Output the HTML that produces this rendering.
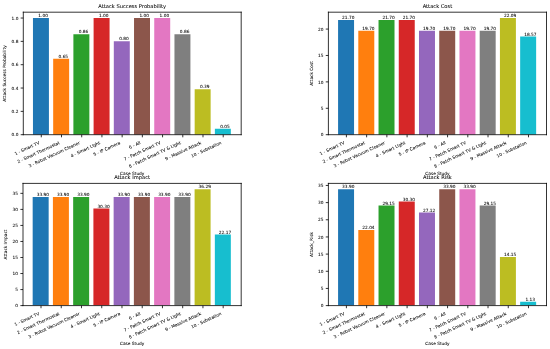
<!DOCTYPE html>
<html><head><meta charset="utf-8"><title>Attack metrics</title>
<style>html,body{margin:0;padding:0;background:#fff;width:550px;height:349px;overflow:hidden}svg{display:block}svg text{text-rendering:geometricPrecision}svg text{stroke:#000;stroke-width:0.06px}</style>
</head><body>
<svg width="550" height="349" viewBox="0 0 550 349" version="1.1">
<defs>
<style type="text/css">*{stroke-linejoin: round; stroke-linecap: butt}</style>
</defs>
<g id="figure_1">
<g id="patch_1">
<path d="M 0 349 L 550 349 L 550 0 L 0 0 z
" style="fill: #ffffff"/>
</g>
<g id="axes_1">
<g id="patch_2">
<path d="M 23.3 134.7 L 241.2 134.7 L 241.2 12.2 L 23.3 12.2 z
" style="fill: #ffffff"/>
</g>
<g id="patch_3">
<path d="M 32.961985 134.7 L 48.930538 134.7 L 48.930538 18.033333 L 32.961985 18.033333 z
" clip-path="url(#p0e96db7b95)" style="fill: #1f77b4"/>
</g>
<g id="patch_4">
<path d="M 53.175343 134.7 L 69.143896 134.7 L 69.143896 58.866667 L 53.175343 58.866667 z
" clip-path="url(#p0e96db7b95)" style="fill: #ff7f0e"/>
</g>
<g id="patch_5">
<path d="M 73.388701 134.7 L 89.357254 134.7 L 89.357254 34.366667 L 73.388701 34.366667 z
" clip-path="url(#p0e96db7b95)" style="fill: #2ca02c"/>
</g>
<g id="patch_6">
<path d="M 93.602059 134.7 L 109.570612 134.7 L 109.570612 18.033333 L 93.602059 18.033333 z
" clip-path="url(#p0e96db7b95)" style="fill: #d62728"/>
</g>
<g id="patch_7">
<path d="M 113.815417 134.7 L 129.78397 134.7 L 129.78397 41.366667 L 113.815417 41.366667 z
" clip-path="url(#p0e96db7b95)" style="fill: #9467bd"/>
</g>
<g id="patch_8">
<path d="M 134.028776 134.7 L 149.997328 134.7 L 149.997328 18.033333 L 134.028776 18.033333 z
" clip-path="url(#p0e96db7b95)" style="fill: #8c564b"/>
</g>
<g id="patch_9">
<path d="M 154.242134 134.7 L 170.210686 134.7 L 170.210686 18.033333 L 154.242134 18.033333 z
" clip-path="url(#p0e96db7b95)" style="fill: #e377c2"/>
</g>
<g id="patch_10">
<path d="M 174.455492 134.7 L 190.424045 134.7 L 190.424045 34.366667 L 174.455492 34.366667 z
" clip-path="url(#p0e96db7b95)" style="fill: #7f7f7f"/>
</g>
<g id="patch_11">
<path d="M 194.66885 134.7 L 210.637403 134.7 L 210.637403 89.2 L 194.66885 89.2 z
" clip-path="url(#p0e96db7b95)" style="fill: #bcbd22"/>
</g>
<g id="patch_12">
<path d="M 214.882208 134.7 L 230.850761 134.7 L 230.850761 128.866667 L 214.882208 128.866667 z
" clip-path="url(#p0e96db7b95)" style="fill: #17becf"/>
</g>
<g id="matplotlib.axis_1">
<g id="xtick_1">
<g id="line2d_1">
<g>
<path d="M41.290 134.700 L41.290 137.325" style="stroke: #000000; stroke-width: 0.8"/>
</g>
</g>
<g id="text_1">
<text style="font-size: 4.306px; font-family: 'DejaVu Sans', 'Liberation Sans', sans-serif" transform="translate(15.441759 155.200731) rotate(-25)">1 - Smart TV</text>
</g>
</g>
<g id="xtick_2">
<g id="line2d_2">
<g>
<path d="M61.503 134.700 L61.503 137.325" style="stroke: #000000; stroke-width: 0.8"/>
</g>
</g>
<g id="text_2">
<text style="font-size: 4.306px; font-family: 'DejaVu Sans', 'Liberation Sans', sans-serif" transform="translate(18.240547 163.321278) rotate(-25)">2 - Smart Thermostat</text>
</g>
</g>
<g id="xtick_3">
<g id="line2d_3">
<g>
<path d="M81.717 134.700 L81.717 137.325" style="stroke: #000000; stroke-width: 0.8"/>
</g>
</g>
<g id="text_3">
<text style="font-size: 4.306px; font-family: 'DejaVu Sans', 'Liberation Sans', sans-serif" transform="translate(29.4335 167.527562) rotate(-25)">3 - Robot Vacuum Cleaner</text>
</g>
</g>
<g id="xtick_4">
<g id="line2d_4">
<g>
<path d="M101.930 134.700 L101.930 137.325" style="stroke: #000000; stroke-width: 0.8"/>
</g>
</g>
<g id="text_4">
<text style="font-size: 4.306px; font-family: 'DejaVu Sans', 'Liberation Sans', sans-serif" transform="translate(71.395711 157.385906) rotate(-25)">4 - Smart Light</text>
</g>
</g>
<g id="xtick_5">
<g id="line2d_5">
<g>
<path d="M122.143 134.700 L122.143 137.325" style="stroke: #000000; stroke-width: 0.8"/>
</g>
</g>
<g id="text_5">
<text style="font-size: 4.306px; font-family: 'DejaVu Sans', 'Liberation Sans', sans-serif" transform="translate(94.333544 156.115462) rotate(-25)">5 - IP Camera</text>
</g>
</g>
<g id="xtick_6">
<g id="line2d_6">
<g>
<path d="M142.357 134.700 L142.357 137.325" style="stroke: #000000; stroke-width: 0.8"/>
</g>
</g>
<g id="text_6">
<text style="font-size: 4.306px; font-family: 'DejaVu Sans', 'Liberation Sans', sans-serif" transform="translate(129.768721 149.017411) rotate(-25)">6 - All</text>
</g>
</g>
<g id="xtick_7">
<g id="line2d_7">
<g>
<path d="M162.570 134.700 L162.570 137.325" style="stroke: #000000; stroke-width: 0.8"/>
</g>
</g>
<g id="text_7">
<text style="font-size: 4.306px; font-family: 'DejaVu Sans', 'Liberation Sans', sans-serif" transform="translate(124.763606 160.776979) rotate(-25)">7 - Patch Smart TV</text>
</g>
</g>
<g id="xtick_8">
<g id="line2d_8">
<g>
<path d="M182.783 134.700 L182.783 137.325" style="stroke: #000000; stroke-width: 0.8"/>
</g>
</g>
<g id="text_8">
<text style="font-size: 4.306px; font-family: 'DejaVu Sans', 'Liberation Sans', sans-serif" transform="translate(129.713681 167.894365) rotate(-25)">8 - Patch Smart TV &amp; Light</text>
</g>
</g>
<g id="xtick_9">
<g id="line2d_9">
<g>
<path d="M202.997 134.700 L202.997 137.325" style="stroke: #000000; stroke-width: 0.8"/>
</g>
</g>
<g id="text_9">
<text style="font-size: 4.306px; font-family: 'DejaVu Sans', 'Liberation Sans', sans-serif" transform="translate(165.92815 160.432924) rotate(-25)">9 - Massive Attack</text>
</g>
</g>
<g id="xtick_10">
<g id="line2d_10">
<g>
<path d="M223.210 134.700 L223.210 137.325" style="stroke: #000000; stroke-width: 0.8"/>
</g>
</g>
<g id="text_10">
<text style="font-size: 4.306px; font-family: 'DejaVu Sans', 'Liberation Sans', sans-serif" transform="translate(192.119134 157.645511) rotate(-25)">10 - Substation</text>
</g>
</g>
<g id="text_11">
<text style="font-size: 4.306px; font-family: 'DejaVu Sans', 'Liberation Sans', sans-serif; text-anchor: middle" x="132.25" y="174.527862" transform="rotate(-0 132.25 174.527862)">Case Study</text>
</g>
</g>
<g id="matplotlib.axis_2">
<g id="ytick_1">
<g id="line2d_11">
<g>
<path d="M23.300 134.700 L20.675 134.700" style="stroke: #000000; stroke-width: 0.8"/>
</g>
</g>
<g id="text_12">
<text style="font-size: 4.306px; font-family: 'DejaVu Sans', 'Liberation Sans', sans-serif; text-anchor: end" x="18.375" y="136.335944" transform="rotate(-0 18.375 136.335944)">0.0</text>
</g>
</g>
<g id="ytick_2">
<g id="line2d_12">
<g>
<path d="M23.300 111.367 L20.675 111.367" style="stroke: #000000; stroke-width: 0.8"/>
</g>
</g>
<g id="text_13">
<text style="font-size: 4.306px; font-family: 'DejaVu Sans', 'Liberation Sans', sans-serif; text-anchor: end" x="18.375" y="113.00261" transform="rotate(-0 18.375 113.00261)">0.2</text>
</g>
</g>
<g id="ytick_3">
<g id="line2d_13">
<g>
<path d="M23.300 88.033 L20.675 88.033" style="stroke: #000000; stroke-width: 0.8"/>
</g>
</g>
<g id="text_14">
<text style="font-size: 4.306px; font-family: 'DejaVu Sans', 'Liberation Sans', sans-serif; text-anchor: end" x="18.375" y="89.669277" transform="rotate(-0 18.375 89.669277)">0.4</text>
</g>
</g>
<g id="ytick_4">
<g id="line2d_14">
<g>
<path d="M23.300 64.700 L20.675 64.700" style="stroke: #000000; stroke-width: 0.8"/>
</g>
</g>
<g id="text_15">
<text style="font-size: 4.306px; font-family: 'DejaVu Sans', 'Liberation Sans', sans-serif; text-anchor: end" x="18.375" y="66.335944" transform="rotate(-0 18.375 66.335944)">0.6</text>
</g>
</g>
<g id="ytick_5">
<g id="line2d_15">
<g>
<path d="M23.300 41.367 L20.675 41.367" style="stroke: #000000; stroke-width: 0.8"/>
</g>
</g>
<g id="text_16">
<text style="font-size: 4.306px; font-family: 'DejaVu Sans', 'Liberation Sans', sans-serif; text-anchor: end" x="18.375" y="43.00261" transform="rotate(-0 18.375 43.00261)">0.8</text>
</g>
</g>
<g id="ytick_6">
<g id="line2d_16">
<g>
<path d="M23.300 18.033 L20.675 18.033" style="stroke: #000000; stroke-width: 0.8"/>
</g>
</g>
<g id="text_17">
<text style="font-size: 4.306px; font-family: 'DejaVu Sans', 'Liberation Sans', sans-serif; text-anchor: end" x="18.375" y="19.669277" transform="rotate(-0 18.375 19.669277)">1.0</text>
</g>
</g>
<g id="text_18">
<text style="font-size: 4.306px; font-family: 'DejaVu Sans', 'Liberation Sans', sans-serif; text-anchor: middle" x="5.621601" y="73.45" transform="rotate(-90 5.621601 73.45)">Attack Success Probability</text>
</g>
</g>
<g id="patch_13">
<path d="M 23.3 134.7 L 23.3 12.2 " style="fill: none; stroke: #000000; stroke-width: 0.8; stroke-linejoin: miter; stroke-linecap: square"/>
</g>
<g id="patch_14">
<path d="M 241.2 134.7 L 241.2 12.2 " style="fill: none; stroke: #000000; stroke-width: 0.8; stroke-linejoin: miter; stroke-linecap: square"/>
</g>
<g id="patch_15">
<path d="M 23.3 134.7 L 241.2 134.7 " style="fill: none; stroke: #000000; stroke-width: 0.8; stroke-linejoin: miter; stroke-linecap: square"/>
</g>
<g id="patch_16">
<path d="M 23.3 12.2 L 241.2 12.2 " style="fill: none; stroke: #000000; stroke-width: 0.8; stroke-linejoin: miter; stroke-linecap: square"/>
</g>
<g id="text_19">
<text style="font-size: 4.306px; font-family: 'DejaVu Sans', 'Liberation Sans', sans-serif; text-anchor: middle" x="43.109091" y="17.13782" transform="rotate(-0 43.109091 17.13782)">1.00</text>
</g>
<g id="text_20">
<text style="font-size: 4.306px; font-family: 'DejaVu Sans', 'Liberation Sans', sans-serif; text-anchor: middle" x="63.322449" y="57.971153" transform="rotate(-0 63.322449 57.971153)">0.65</text>
</g>
<g id="text_21">
<text style="font-size: 4.306px; font-family: 'DejaVu Sans', 'Liberation Sans', sans-serif; text-anchor: middle" x="83.535807" y="33.471153" transform="rotate(-0 83.535807 33.471153)">0.86</text>
</g>
<g id="text_22">
<text style="font-size: 4.306px; font-family: 'DejaVu Sans', 'Liberation Sans', sans-serif; text-anchor: middle" x="103.749165" y="17.13782" transform="rotate(-0 103.749165 17.13782)">1.00</text>
</g>
<g id="text_23">
<text style="font-size: 4.306px; font-family: 'DejaVu Sans', 'Liberation Sans', sans-serif; text-anchor: middle" x="123.962523" y="40.471153" transform="rotate(-0 123.962523 40.471153)">0.80</text>
</g>
<g id="text_24">
<text style="font-size: 4.306px; font-family: 'DejaVu Sans', 'Liberation Sans', sans-serif; text-anchor: middle" x="144.175881" y="17.13782" transform="rotate(-0 144.175881 17.13782)">1.00</text>
</g>
<g id="text_25">
<text style="font-size: 4.306px; font-family: 'DejaVu Sans', 'Liberation Sans', sans-serif; text-anchor: middle" x="164.389239" y="17.13782" transform="rotate(-0 164.389239 17.13782)">1.00</text>
</g>
<g id="text_26">
<text style="font-size: 4.306px; font-family: 'DejaVu Sans', 'Liberation Sans', sans-serif; text-anchor: middle" x="184.602597" y="33.471153" transform="rotate(-0 184.602597 33.471153)">0.86</text>
</g>
<g id="text_27">
<text style="font-size: 4.306px; font-family: 'DejaVu Sans', 'Liberation Sans', sans-serif; text-anchor: middle" x="204.815955" y="88.304487" transform="rotate(-0 204.815955 88.304487)">0.39</text>
</g>
<g id="text_28">
<text style="font-size: 4.306px; font-family: 'DejaVu Sans', 'Liberation Sans', sans-serif; text-anchor: middle" x="225.029314" y="127.971153" transform="rotate(-0 225.029314 127.971153)">0.05</text>
</g>
<g id="text_29">
<text style="font-size: 5.1672px; font-family: 'DejaVu Sans', 'Liberation Sans', sans-serif; text-anchor: middle" x="132.25" y="7.7" transform="rotate(-0 132.25 7.7)">Attack Success Probability</text>
</g>
</g>
<g id="axes_2">
<g id="patch_17">
<path d="M 328.4 134.7 L 546.5 134.7 L 546.5 12.2 L 328.4 12.2 z
" style="fill: #ffffff"/>
</g>
<g id="patch_18">
<path d="M 338.070853 134.7 L 354.054063 134.7 L 354.054063 20.093089 L 338.070853 20.093089 z
" clip-path="url(#pd82930c378)" style="fill: #1f77b4"/>
</g>
<g id="patch_19">
<path d="M 358.302764 134.7 L 374.285974 134.7 L 374.285974 30.655938 L 358.302764 30.655938 z
" clip-path="url(#pd82930c378)" style="fill: #ff7f0e"/>
</g>
<g id="patch_20">
<path d="M 378.534675 134.7 L 394.517885 134.7 L 394.517885 20.093089 L 378.534675 20.093089 z
" clip-path="url(#pd82930c378)" style="fill: #2ca02c"/>
</g>
<g id="patch_21">
<path d="M 398.766586 134.7 L 414.749796 134.7 L 414.749796 20.093089 L 398.766586 20.093089 z
" clip-path="url(#pd82930c378)" style="fill: #d62728"/>
</g>
<g id="patch_22">
<path d="M 418.998497 134.7 L 434.981707 134.7 L 434.981707 30.655938 L 418.998497 30.655938 z
" clip-path="url(#pd82930c378)" style="fill: #9467bd"/>
</g>
<g id="patch_23">
<path d="M 439.230408 134.7 L 455.213618 134.7 L 455.213618 30.655938 L 439.230408 30.655938 z
" clip-path="url(#pd82930c378)" style="fill: #8c564b"/>
</g>
<g id="patch_24">
<path d="M 459.462319 134.7 L 475.445529 134.7 L 475.445529 30.655938 L 459.462319 30.655938 z
" clip-path="url(#pd82930c378)" style="fill: #e377c2"/>
</g>
<g id="patch_25">
<path d="M 479.69423 134.7 L 495.67744 134.7 L 495.67744 30.655938 L 479.69423 30.655938 z
" clip-path="url(#pd82930c378)" style="fill: #7f7f7f"/>
</g>
<g id="patch_26">
<path d="M 499.926141 134.7 L 515.909351 134.7 L 515.909351 18.033333 L 499.926141 18.033333 z
" clip-path="url(#pd82930c378)" style="fill: #bcbd22"/>
</g>
<g id="patch_27">
<path d="M 520.158052 134.7 L 536.141262 134.7 L 536.141262 36.623947 L 520.158052 36.623947 z
" clip-path="url(#pd82930c378)" style="fill: #17becf"/>
</g>
<g id="matplotlib.axis_3">
<g id="xtick_11">
<g id="line2d_17">
<g>
<path d="M346.406 134.700 L346.406 137.325" style="stroke: #000000; stroke-width: 0.8"/>
</g>
</g>
<g id="text_30">
<text style="font-size: 4.306px; font-family: 'DejaVu Sans', 'Liberation Sans', sans-serif" transform="translate(320.558271 155.200731) rotate(-25)">1 - Smart TV</text>
</g>
</g>
<g id="xtick_12">
<g id="line2d_18">
<g>
<path d="M366.638 134.700 L366.638 137.325" style="stroke: #000000; stroke-width: 0.8"/>
</g>
</g>
<g id="text_31">
<text style="font-size: 4.306px; font-family: 'DejaVu Sans', 'Liberation Sans', sans-serif" transform="translate(323.375612 163.321278) rotate(-25)">2 - Smart Thermostat</text>
</g>
</g>
<g id="xtick_13">
<g id="line2d_19">
<g>
<path d="M386.870 134.700 L386.870 137.325" style="stroke: #000000; stroke-width: 0.8"/>
</g>
</g>
<g id="text_32">
<text style="font-size: 4.306px; font-family: 'DejaVu Sans', 'Liberation Sans', sans-serif" transform="translate(334.587118 167.527562) rotate(-25)">3 - Robot Vacuum Cleaner</text>
</g>
</g>
<g id="xtick_14">
<g id="line2d_20">
<g>
<path d="M407.102 134.700 L407.102 137.325" style="stroke: #000000; stroke-width: 0.8"/>
</g>
</g>
<g id="text_33">
<text style="font-size: 4.306px; font-family: 'DejaVu Sans', 'Liberation Sans', sans-serif" transform="translate(376.567881 157.385906) rotate(-25)">4 - Smart Light</text>
</g>
</g>
<g id="xtick_15">
<g id="line2d_21">
<g>
<path d="M427.334 134.700 L427.334 137.325" style="stroke: #000000; stroke-width: 0.8"/>
</g>
</g>
<g id="text_34">
<text style="font-size: 4.306px; font-family: 'DejaVu Sans', 'Liberation Sans', sans-serif" transform="translate(399.524268 156.115462) rotate(-25)">5 - IP Camera</text>
</g>
</g>
<g id="xtick_16">
<g id="line2d_22">
<g>
<path d="M447.566 134.700 L447.566 137.325" style="stroke: #000000; stroke-width: 0.8"/>
</g>
</g>
<g id="text_35">
<text style="font-size: 4.306px; font-family: 'DejaVu Sans', 'Liberation Sans', sans-serif" transform="translate(434.977997 149.017411) rotate(-25)">6 - All</text>
</g>
</g>
<g id="xtick_17">
<g id="line2d_23">
<g>
<path d="M467.798 134.700 L467.798 137.325" style="stroke: #000000; stroke-width: 0.8"/>
</g>
</g>
<g id="text_36">
<text style="font-size: 4.306px; font-family: 'DejaVu Sans', 'Liberation Sans', sans-serif" transform="translate(429.991435 160.776979) rotate(-25)">7 - Patch Smart TV</text>
</g>
</g>
<g id="xtick_18">
<g id="line2d_24">
<g>
<path d="M488.030 134.700 L488.030 137.325" style="stroke: #000000; stroke-width: 0.8"/>
</g>
</g>
<g id="text_37">
<text style="font-size: 4.306px; font-family: 'DejaVu Sans', 'Liberation Sans', sans-serif" transform="translate(434.960063 167.894365) rotate(-25)">8 - Patch Smart TV &amp; Light</text>
</g>
</g>
<g id="xtick_19">
<g id="line2d_25">
<g>
<path d="M508.262 134.700 L508.262 137.325" style="stroke: #000000; stroke-width: 0.8"/>
</g>
</g>
<g id="text_38">
<text style="font-size: 4.306px; font-family: 'DejaVu Sans', 'Liberation Sans', sans-serif" transform="translate(471.193085 160.432924) rotate(-25)">9 - Massive Attack</text>
</g>
</g>
<g id="xtick_20">
<g id="line2d_26">
<g>
<path d="M528.494 134.700 L528.494 137.325" style="stroke: #000000; stroke-width: 0.8"/>
</g>
</g>
<g id="text_39">
<text style="font-size: 4.306px; font-family: 'DejaVu Sans', 'Liberation Sans', sans-serif" transform="translate(497.402622 157.645511) rotate(-25)">10 - Substation</text>
</g>
</g>
<g id="text_40">
<text style="font-size: 4.306px; font-family: 'DejaVu Sans', 'Liberation Sans', sans-serif; text-anchor: middle" x="437.45" y="174.527862" transform="rotate(-0 437.45 174.527862)">Case Study</text>
</g>
</g>
<g id="matplotlib.axis_4">
<g id="ytick_7">
<g id="line2d_27">
<g>
<path d="M328.400 134.700 L325.775 134.700" style="stroke: #000000; stroke-width: 0.8"/>
</g>
</g>
<g id="text_41">
<text style="font-size: 4.306px; font-family: 'DejaVu Sans', 'Liberation Sans', sans-serif; text-anchor: end" x="323.475" y="136.335944" transform="rotate(-0 323.475 136.335944)">0</text>
</g>
</g>
<g id="ytick_8">
<g id="line2d_28">
<g>
<path d="M328.400 108.293 L325.775 108.293" style="stroke: #000000; stroke-width: 0.8"/>
</g>
</g>
<g id="text_42">
<text style="font-size: 4.306px; font-family: 'DejaVu Sans', 'Liberation Sans', sans-serif; text-anchor: end" x="323.475" y="109.928821" transform="rotate(-0 323.475 109.928821)">5</text>
</g>
</g>
<g id="ytick_9">
<g id="line2d_29">
<g>
<path d="M328.400 81.886 L325.775 81.886" style="stroke: #000000; stroke-width: 0.8"/>
</g>
</g>
<g id="text_43">
<text style="font-size: 4.306px; font-family: 'DejaVu Sans', 'Liberation Sans', sans-serif; text-anchor: end" x="323.475" y="83.521699" transform="rotate(-0 323.475 83.521699)">10</text>
</g>
</g>
<g id="ytick_10">
<g id="line2d_30">
<g>
<path d="M328.400 55.479 L325.775 55.479" style="stroke: #000000; stroke-width: 0.8"/>
</g>
</g>
<g id="text_44">
<text style="font-size: 4.306px; font-family: 'DejaVu Sans', 'Liberation Sans', sans-serif; text-anchor: end" x="323.475" y="57.114576" transform="rotate(-0 323.475 57.114576)">15</text>
</g>
</g>
<g id="ytick_11">
<g id="line2d_31">
<g>
<path d="M328.400 29.072 L325.775 29.072" style="stroke: #000000; stroke-width: 0.8"/>
</g>
</g>
<g id="text_45">
<text style="font-size: 4.306px; font-family: 'DejaVu Sans', 'Liberation Sans', sans-serif; text-anchor: end" x="323.475" y="30.707454" transform="rotate(-0 323.475 30.707454)">20</text>
</g>
</g>
<g id="text_46">
<text style="font-size: 4.306px; font-family: 'DejaVu Sans', 'Liberation Sans', sans-serif; text-anchor: middle" x="313.290102" y="73.45" transform="rotate(-90 313.290102 73.45)">Attack Cost</text>
</g>
</g>
<g id="patch_28">
<path d="M 328.4 134.7 L 328.4 12.2 " style="fill: none; stroke: #000000; stroke-width: 0.8; stroke-linejoin: miter; stroke-linecap: square"/>
</g>
<g id="patch_29">
<path d="M 546.5 134.7 L 546.5 12.2 " style="fill: none; stroke: #000000; stroke-width: 0.8; stroke-linejoin: miter; stroke-linecap: square"/>
</g>
<g id="patch_30">
<path d="M 328.4 134.7 L 546.5 134.7 " style="fill: none; stroke: #000000; stroke-width: 0.8; stroke-linejoin: miter; stroke-linecap: square"/>
</g>
<g id="patch_31">
<path d="M 328.4 12.2 L 546.5 12.2 " style="fill: none; stroke: #000000; stroke-width: 0.8; stroke-linejoin: miter; stroke-linecap: square"/>
</g>
<g id="text_47">
<text style="font-size: 4.306px; font-family: 'DejaVu Sans', 'Liberation Sans', sans-serif; text-anchor: middle" x="348.227273" y="19.197575" transform="rotate(-0 348.227273 19.197575)">21.70</text>
</g>
<g id="text_48">
<text style="font-size: 4.306px; font-family: 'DejaVu Sans', 'Liberation Sans', sans-serif; text-anchor: middle" x="368.459184" y="29.760424" transform="rotate(-0 368.459184 29.760424)">19.70</text>
</g>
<g id="text_49">
<text style="font-size: 4.306px; font-family: 'DejaVu Sans', 'Liberation Sans', sans-serif; text-anchor: middle" x="388.691095" y="19.197575" transform="rotate(-0 388.691095 19.197575)">21.70</text>
</g>
<g id="text_50">
<text style="font-size: 4.306px; font-family: 'DejaVu Sans', 'Liberation Sans', sans-serif; text-anchor: middle" x="408.923006" y="19.197575" transform="rotate(-0 408.923006 19.197575)">21.70</text>
</g>
<g id="text_51">
<text style="font-size: 4.306px; font-family: 'DejaVu Sans', 'Liberation Sans', sans-serif; text-anchor: middle" x="429.154917" y="29.760424" transform="rotate(-0 429.154917 29.760424)">19.70</text>
</g>
<g id="text_52">
<text style="font-size: 4.306px; font-family: 'DejaVu Sans', 'Liberation Sans', sans-serif; text-anchor: middle" x="449.386827" y="29.760424" transform="rotate(-0 449.386827 29.760424)">19.70</text>
</g>
<g id="text_53">
<text style="font-size: 4.306px; font-family: 'DejaVu Sans', 'Liberation Sans', sans-serif; text-anchor: middle" x="469.618738" y="29.760424" transform="rotate(-0 469.618738 29.760424)">19.70</text>
</g>
<g id="text_54">
<text style="font-size: 4.306px; font-family: 'DejaVu Sans', 'Liberation Sans', sans-serif; text-anchor: middle" x="489.850649" y="29.760424" transform="rotate(-0 489.850649 29.760424)">19.70</text>
</g>
<g id="text_55">
<text style="font-size: 4.306px; font-family: 'DejaVu Sans', 'Liberation Sans', sans-serif; text-anchor: middle" x="510.08256" y="17.13782" transform="rotate(-0 510.08256 17.13782)">22.09</text>
</g>
<g id="text_56">
<text style="font-size: 4.306px; font-family: 'DejaVu Sans', 'Liberation Sans', sans-serif; text-anchor: middle" x="530.314471" y="35.728434" transform="rotate(-0 530.314471 35.728434)">18.57</text>
</g>
<g id="text_57">
<text style="font-size: 5.1672px; font-family: 'DejaVu Sans', 'Liberation Sans', sans-serif; text-anchor: middle" x="437.45" y="7.7" transform="rotate(-0 437.45 7.7)">Attack Cost</text>
</g>
</g>
<g id="axes_3">
<g id="patch_32">
<path d="M 23 305.6 L 241.2 305.6 L 241.2 183.4 L 23 183.4 z
" style="fill: #ffffff"/>
</g>
<g id="patch_33">
<path d="M 32.675288 305.6 L 48.665826 305.6 L 48.665826 196.883707 L 32.675288 196.883707 z
" clip-path="url(#pdbe41e1990)" style="fill: #1f77b4"/>
</g>
<g id="patch_34">
<path d="M 52.916475 305.6 L 68.907013 305.6 L 68.907013 196.883707 L 52.916475 196.883707 z
" clip-path="url(#pdbe41e1990)" style="fill: #ff7f0e"/>
</g>
<g id="patch_35">
<path d="M 73.157662 305.6 L 89.1482 305.6 L 89.1482 196.883707 L 73.157662 196.883707 z
" clip-path="url(#pdbe41e1990)" style="fill: #2ca02c"/>
</g>
<g id="patch_36">
<path d="M 93.39885 305.6 L 109.389388 305.6 L 109.389388 208.4288 L 93.39885 208.4288 z
" clip-path="url(#pdbe41e1990)" style="fill: #d62728"/>
</g>
<g id="patch_37">
<path d="M 113.640037 305.6 L 129.630575 305.6 L 129.630575 196.883707 L 113.640037 196.883707 z
" clip-path="url(#pdbe41e1990)" style="fill: #9467bd"/>
</g>
<g id="patch_38">
<path d="M 133.881224 305.6 L 149.871763 305.6 L 149.871763 196.883707 L 133.881224 196.883707 z
" clip-path="url(#pdbe41e1990)" style="fill: #8c564b"/>
</g>
<g id="patch_39">
<path d="M 154.122412 305.6 L 170.11295 305.6 L 170.11295 196.883707 L 154.122412 196.883707 z
" clip-path="url(#pdbe41e1990)" style="fill: #e377c2"/>
</g>
<g id="patch_40">
<path d="M 174.363599 305.6 L 190.354137 305.6 L 190.354137 196.883707 L 174.363599 196.883707 z
" clip-path="url(#pdbe41e1990)" style="fill: #7f7f7f"/>
</g>
<g id="patch_41">
<path d="M 194.604787 305.6 L 210.595325 305.6 L 210.595325 189.219048 L 194.604787 189.219048 z
" clip-path="url(#pdbe41e1990)" style="fill: #bcbd22"/>
</g>
<g id="patch_42">
<path d="M 214.845974 305.6 L 230.836512 305.6 L 230.836512 234.501468 L 214.845974 234.501468 z
" clip-path="url(#pdbe41e1990)" style="fill: #17becf"/>
</g>
<g id="matplotlib.axis_5">
<g id="xtick_21">
<g id="line2d_32">
<g>
<path d="M41.015 305.600 L41.015 308.225" style="stroke: #000000; stroke-width: 0.8"/>
</g>
</g>
<g id="text_58">
<text style="font-size: 4.306px; font-family: 'DejaVu Sans', 'Liberation Sans', sans-serif" transform="translate(15.166527 326.100731) rotate(-25)">1 - Smart TV</text>
</g>
</g>
<g id="xtick_22">
<g id="line2d_33">
<g>
<path d="M61.256 305.600 L61.256 308.225" style="stroke: #000000; stroke-width: 0.8"/>
</g>
</g>
<g id="text_59">
<text style="font-size: 4.306px; font-family: 'DejaVu Sans', 'Liberation Sans', sans-serif" transform="translate(17.993144 334.221278) rotate(-25)">2 - Smart Thermostat</text>
</g>
</g>
<g id="xtick_23">
<g id="line2d_34">
<g>
<path d="M81.497 305.600 L81.497 308.225" style="stroke: #000000; stroke-width: 0.8"/>
</g>
</g>
<g id="text_60">
<text style="font-size: 4.306px; font-family: 'DejaVu Sans', 'Liberation Sans', sans-serif" transform="translate(29.213927 338.427562) rotate(-25)">3 - Robot Vacuum Cleaner</text>
</g>
</g>
<g id="xtick_24">
<g id="line2d_35">
<g>
<path d="M101.738 305.600 L101.738 308.225" style="stroke: #000000; stroke-width: 0.8"/>
</g>
</g>
<g id="text_61">
<text style="font-size: 4.306px; font-family: 'DejaVu Sans', 'Liberation Sans', sans-serif" transform="translate(71.203967 328.285906) rotate(-25)">4 - Smart Light</text>
</g>
</g>
<g id="xtick_25">
<g id="line2d_36">
<g>
<path d="M121.979 305.600 L121.979 308.225" style="stroke: #000000; stroke-width: 0.8"/>
</g>
</g>
<g id="text_62">
<text style="font-size: 4.306px; font-family: 'DejaVu Sans', 'Liberation Sans', sans-serif" transform="translate(94.16963 327.015462) rotate(-25)">5 - IP Camera</text>
</g>
</g>
<g id="xtick_26">
<g id="line2d_37">
<g>
<path d="M142.221 305.600 L142.221 308.225" style="stroke: #000000; stroke-width: 0.8"/>
</g>
</g>
<g id="text_63">
<text style="font-size: 4.306px; font-family: 'DejaVu Sans', 'Liberation Sans', sans-serif" transform="translate(129.632636 319.917411) rotate(-25)">6 - All</text>
</g>
</g>
<g id="xtick_27">
<g id="line2d_38">
<g>
<path d="M162.462 305.600 L162.462 308.225" style="stroke: #000000; stroke-width: 0.8"/>
</g>
</g>
<g id="text_64">
<text style="font-size: 4.306px; font-family: 'DejaVu Sans', 'Liberation Sans', sans-serif" transform="translate(124.65535 331.676979) rotate(-25)">7 - Patch Smart TV</text>
</g>
</g>
<g id="xtick_28">
<g id="line2d_39">
<g>
<path d="M182.703 305.600 L182.703 308.225" style="stroke: #000000; stroke-width: 0.8"/>
</g>
</g>
<g id="text_65">
<text style="font-size: 4.306px; font-family: 'DejaVu Sans', 'Liberation Sans', sans-serif" transform="translate(129.633254 338.794365) rotate(-25)">8 - Patch Smart TV &amp; Light</text>
</g>
</g>
<g id="xtick_29">
<g id="line2d_40">
<g>
<path d="M202.944 305.600 L202.944 308.225" style="stroke: #000000; stroke-width: 0.8"/>
</g>
</g>
<g id="text_66">
<text style="font-size: 4.306px; font-family: 'DejaVu Sans', 'Liberation Sans', sans-serif" transform="translate(165.875553 331.332924) rotate(-25)">9 - Massive Attack</text>
</g>
</g>
<g id="xtick_30">
<g id="line2d_41">
<g>
<path d="M223.185 305.600 L223.185 308.225" style="stroke: #000000; stroke-width: 0.8"/>
</g>
</g>
<g id="text_67">
<text style="font-size: 4.306px; font-family: 'DejaVu Sans', 'Liberation Sans', sans-serif" transform="translate(192.094366 328.545511) rotate(-25)">10 - Substation</text>
</g>
</g>
<g id="text_68">
<text style="font-size: 4.306px; font-family: 'DejaVu Sans', 'Liberation Sans', sans-serif; text-anchor: middle" x="132.1" y="345.427862" transform="rotate(-0 132.1 345.427862)">Case Study</text>
</g>
</g>
<g id="matplotlib.axis_6">
<g id="ytick_12">
<g id="line2d_42">
<g>
<path d="M23.000 305.600 L20.375 305.600" style="stroke: #000000; stroke-width: 0.8"/>
</g>
</g>
<g id="text_69">
<text style="font-size: 4.306px; font-family: 'DejaVu Sans', 'Liberation Sans', sans-serif; text-anchor: end" x="18.075" y="307.235944" transform="rotate(-0 18.075 307.235944)">0</text>
</g>
</g>
<g id="ytick_13">
<g id="line2d_43">
<g>
<path d="M23.000 289.565 L20.375 289.565" style="stroke: #000000; stroke-width: 0.8"/>
</g>
</g>
<g id="text_70">
<text style="font-size: 4.306px; font-family: 'DejaVu Sans', 'Liberation Sans', sans-serif; text-anchor: end" x="18.075" y="291.201092" transform="rotate(-0 18.075 291.201092)">5</text>
</g>
</g>
<g id="ytick_14">
<g id="line2d_44">
<g>
<path d="M23.000 273.530 L20.375 273.530" style="stroke: #000000; stroke-width: 0.8"/>
</g>
</g>
<g id="text_71">
<text style="font-size: 4.306px; font-family: 'DejaVu Sans', 'Liberation Sans', sans-serif; text-anchor: end" x="18.075" y="275.166241" transform="rotate(-0 18.075 275.166241)">10</text>
</g>
</g>
<g id="ytick_15">
<g id="line2d_45">
<g>
<path d="M23.000 257.495 L20.375 257.495" style="stroke: #000000; stroke-width: 0.8"/>
</g>
</g>
<g id="text_72">
<text style="font-size: 4.306px; font-family: 'DejaVu Sans', 'Liberation Sans', sans-serif; text-anchor: end" x="18.075" y="259.131389" transform="rotate(-0 18.075 259.131389)">15</text>
</g>
</g>
<g id="ytick_16">
<g id="line2d_46">
<g>
<path d="M23.000 241.461 L20.375 241.461" style="stroke: #000000; stroke-width: 0.8"/>
</g>
</g>
<g id="text_73">
<text style="font-size: 4.306px; font-family: 'DejaVu Sans', 'Liberation Sans', sans-serif; text-anchor: end" x="18.075" y="243.096537" transform="rotate(-0 18.075 243.096537)">20</text>
</g>
</g>
<g id="ytick_17">
<g id="line2d_47">
<g>
<path d="M23.000 225.426 L20.375 225.426" style="stroke: #000000; stroke-width: 0.8"/>
</g>
</g>
<g id="text_74">
<text style="font-size: 4.306px; font-family: 'DejaVu Sans', 'Liberation Sans', sans-serif; text-anchor: end" x="18.075" y="227.061686" transform="rotate(-0 18.075 227.061686)">25</text>
</g>
</g>
<g id="ytick_18">
<g id="line2d_48">
<g>
<path d="M23.000 209.391 L20.375 209.391" style="stroke: #000000; stroke-width: 0.8"/>
</g>
</g>
<g id="text_75">
<text style="font-size: 4.306px; font-family: 'DejaVu Sans', 'Liberation Sans', sans-serif; text-anchor: end" x="18.075" y="211.026834" transform="rotate(-0 18.075 211.026834)">30</text>
</g>
</g>
<g id="ytick_19">
<g id="line2d_49">
<g>
<path d="M23.000 193.356 L20.375 193.356" style="stroke: #000000; stroke-width: 0.8"/>
</g>
</g>
<g id="text_76">
<text style="font-size: 4.306px; font-family: 'DejaVu Sans', 'Liberation Sans', sans-serif; text-anchor: end" x="18.075" y="194.991983" transform="rotate(-0 18.075 194.991983)">35</text>
</g>
</g>
<g id="text_77">
<text style="font-size: 4.306px; font-family: 'DejaVu Sans', 'Liberation Sans', sans-serif; text-anchor: middle" x="6.690102" y="244.5" transform="rotate(-90 6.690102 244.5)">Attack Impact</text>
</g>
</g>
<g id="patch_43">
<path d="M 23 305.6 L 23 183.4 " style="fill: none; stroke: #000000; stroke-width: 0.8; stroke-linejoin: miter; stroke-linecap: square"/>
</g>
<g id="patch_44">
<path d="M 241.2 305.6 L 241.2 183.4 " style="fill: none; stroke: #000000; stroke-width: 0.8; stroke-linejoin: miter; stroke-linecap: square"/>
</g>
<g id="patch_45">
<path d="M 23 305.6 L 241.2 305.6 " style="fill: none; stroke: #000000; stroke-width: 0.8; stroke-linejoin: miter; stroke-linecap: square"/>
</g>
<g id="patch_46">
<path d="M 23 183.4 L 241.2 183.4 " style="fill: none; stroke: #000000; stroke-width: 0.8; stroke-linejoin: miter; stroke-linecap: square"/>
</g>
<g id="text_78">
<text style="font-size: 4.306px; font-family: 'DejaVu Sans', 'Liberation Sans', sans-serif; text-anchor: middle" x="42.836364" y="195.988193" transform="rotate(-0 42.836364 195.988193)">33.90</text>
</g>
<g id="text_79">
<text style="font-size: 4.306px; font-family: 'DejaVu Sans', 'Liberation Sans', sans-serif; text-anchor: middle" x="63.077551" y="195.988193" transform="rotate(-0 63.077551 195.988193)">33.90</text>
</g>
<g id="text_80">
<text style="font-size: 4.306px; font-family: 'DejaVu Sans', 'Liberation Sans', sans-serif; text-anchor: middle" x="83.318738" y="195.988193" transform="rotate(-0 83.318738 195.988193)">33.90</text>
</g>
<g id="text_81">
<text style="font-size: 4.306px; font-family: 'DejaVu Sans', 'Liberation Sans', sans-serif; text-anchor: middle" x="103.559926" y="207.533286" transform="rotate(-0 103.559926 207.533286)">30.30</text>
</g>
<g id="text_82">
<text style="font-size: 4.306px; font-family: 'DejaVu Sans', 'Liberation Sans', sans-serif; text-anchor: middle" x="123.801113" y="195.988193" transform="rotate(-0 123.801113 195.988193)">33.90</text>
</g>
<g id="text_83">
<text style="font-size: 4.306px; font-family: 'DejaVu Sans', 'Liberation Sans', sans-serif; text-anchor: middle" x="144.042301" y="195.988193" transform="rotate(-0 144.042301 195.988193)">33.90</text>
</g>
<g id="text_84">
<text style="font-size: 4.306px; font-family: 'DejaVu Sans', 'Liberation Sans', sans-serif; text-anchor: middle" x="164.283488" y="195.988193" transform="rotate(-0 164.283488 195.988193)">33.90</text>
</g>
<g id="text_85">
<text style="font-size: 4.306px; font-family: 'DejaVu Sans', 'Liberation Sans', sans-serif; text-anchor: middle" x="184.524675" y="195.988193" transform="rotate(-0 184.524675 195.988193)">33.90</text>
</g>
<g id="text_86">
<text style="font-size: 4.306px; font-family: 'DejaVu Sans', 'Liberation Sans', sans-serif; text-anchor: middle" x="204.765863" y="188.323534" transform="rotate(-0 204.765863 188.323534)">36.29</text>
</g>
<g id="text_87">
<text style="font-size: 4.306px; font-family: 'DejaVu Sans', 'Liberation Sans', sans-serif; text-anchor: middle" x="225.00705" y="233.605955" transform="rotate(-0 225.00705 233.605955)">22.17</text>
</g>
<g id="text_88">
<text style="font-size: 5.1672px; font-family: 'DejaVu Sans', 'Liberation Sans', sans-serif; text-anchor: middle" x="132.1" y="178.9" transform="rotate(-0 132.1 178.9)">Attack Impact</text>
</g>
</g>
<g id="axes_4">
<g id="patch_47">
<path d="M 328.4 305.6 L 546.5 305.6 L 546.5 183.4 L 328.4 183.4 z
" style="fill: #ffffff"/>
</g>
<g id="patch_48">
<path d="M 338.070853 305.6 L 354.054063 305.6 L 354.054063 189.219048 L 338.070853 189.219048 z
" clip-path="url(#p15ce7bc6e1)" style="fill: #1f77b4"/>
</g>
<g id="patch_49">
<path d="M 358.302764 305.6 L 374.285974 305.6 L 374.285974 229.935216 L 358.302764 229.935216 z
" clip-path="url(#p15ce7bc6e1)" style="fill: #ff7f0e"/>
</g>
<g id="patch_50">
<path d="M 378.534675 305.6 L 394.517885 305.6 L 394.517885 205.526113 L 378.534675 205.526113 z
" clip-path="url(#p15ce7bc6e1)" style="fill: #2ca02c"/>
</g>
<g id="patch_51">
<path d="M 398.766586 305.6 L 414.749796 305.6 L 414.749796 201.578087 L 398.766586 201.578087 z
" clip-path="url(#p15ce7bc6e1)" style="fill: #d62728"/>
</g>
<g id="patch_52">
<path d="M 418.998497 305.6 L 434.981707 305.6 L 434.981707 212.495238 L 418.998497 212.495238 z
" clip-path="url(#p15ce7bc6e1)" style="fill: #9467bd"/>
</g>
<g id="patch_53">
<path d="M 439.230408 305.6 L 455.213618 305.6 L 455.213618 189.219048 L 439.230408 189.219048 z
" clip-path="url(#p15ce7bc6e1)" style="fill: #8c564b"/>
</g>
<g id="patch_54">
<path d="M 459.462319 305.6 L 475.445529 305.6 L 475.445529 189.219048 L 459.462319 189.219048 z
" clip-path="url(#p15ce7bc6e1)" style="fill: #e377c2"/>
</g>
<g id="patch_55">
<path d="M 479.69423 305.6 L 495.67744 305.6 L 495.67744 205.526113 L 479.69423 205.526113 z
" clip-path="url(#p15ce7bc6e1)" style="fill: #7f7f7f"/>
</g>
<g id="patch_56">
<path d="M 499.926141 305.6 L 515.909351 305.6 L 515.909351 257.02211 L 499.926141 257.02211 z
" clip-path="url(#p15ce7bc6e1)" style="fill: #bcbd22"/>
</g>
<g id="patch_57">
<path d="M 520.158052 305.6 L 536.141262 305.6 L 536.141262 301.720635 L 520.158052 301.720635 z
" clip-path="url(#p15ce7bc6e1)" style="fill: #17becf"/>
</g>
<g id="matplotlib.axis_7">
<g id="xtick_31">
<g id="line2d_50">
<g>
<path d="M346.406 305.600 L346.406 308.225" style="stroke: #000000; stroke-width: 0.8"/>
</g>
</g>
<g id="text_89">
<text style="font-size: 4.306px; font-family: 'DejaVu Sans', 'Liberation Sans', sans-serif" transform="translate(320.558271 326.100731) rotate(-25)">1 - Smart TV</text>
</g>
</g>
<g id="xtick_32">
<g id="line2d_51">
<g>
<path d="M366.638 305.600 L366.638 308.225" style="stroke: #000000; stroke-width: 0.8"/>
</g>
</g>
<g id="text_90">
<text style="font-size: 4.306px; font-family: 'DejaVu Sans', 'Liberation Sans', sans-serif" transform="translate(323.375612 334.221278) rotate(-25)">2 - Smart Thermostat</text>
</g>
</g>
<g id="xtick_33">
<g id="line2d_52">
<g>
<path d="M386.870 305.600 L386.870 308.225" style="stroke: #000000; stroke-width: 0.8"/>
</g>
</g>
<g id="text_91">
<text style="font-size: 4.306px; font-family: 'DejaVu Sans', 'Liberation Sans', sans-serif" transform="translate(334.587118 338.427562) rotate(-25)">3 - Robot Vacuum Cleaner</text>
</g>
</g>
<g id="xtick_34">
<g id="line2d_53">
<g>
<path d="M407.102 305.600 L407.102 308.225" style="stroke: #000000; stroke-width: 0.8"/>
</g>
</g>
<g id="text_92">
<text style="font-size: 4.306px; font-family: 'DejaVu Sans', 'Liberation Sans', sans-serif" transform="translate(376.567881 328.285906) rotate(-25)">4 - Smart Light</text>
</g>
</g>
<g id="xtick_35">
<g id="line2d_54">
<g>
<path d="M427.334 305.600 L427.334 308.225" style="stroke: #000000; stroke-width: 0.8"/>
</g>
</g>
<g id="text_93">
<text style="font-size: 4.306px; font-family: 'DejaVu Sans', 'Liberation Sans', sans-serif" transform="translate(399.524268 327.015462) rotate(-25)">5 - IP Camera</text>
</g>
</g>
<g id="xtick_36">
<g id="line2d_55">
<g>
<path d="M447.566 305.600 L447.566 308.225" style="stroke: #000000; stroke-width: 0.8"/>
</g>
</g>
<g id="text_94">
<text style="font-size: 4.306px; font-family: 'DejaVu Sans', 'Liberation Sans', sans-serif" transform="translate(434.977997 319.917411) rotate(-25)">6 - All</text>
</g>
</g>
<g id="xtick_37">
<g id="line2d_56">
<g>
<path d="M467.798 305.600 L467.798 308.225" style="stroke: #000000; stroke-width: 0.8"/>
</g>
</g>
<g id="text_95">
<text style="font-size: 4.306px; font-family: 'DejaVu Sans', 'Liberation Sans', sans-serif" transform="translate(429.991435 331.676979) rotate(-25)">7 - Patch Smart TV</text>
</g>
</g>
<g id="xtick_38">
<g id="line2d_57">
<g>
<path d="M488.030 305.600 L488.030 308.225" style="stroke: #000000; stroke-width: 0.8"/>
</g>
</g>
<g id="text_96">
<text style="font-size: 4.306px; font-family: 'DejaVu Sans', 'Liberation Sans', sans-serif" transform="translate(434.960063 338.794365) rotate(-25)">8 - Patch Smart TV &amp; Light</text>
</g>
</g>
<g id="xtick_39">
<g id="line2d_58">
<g>
<path d="M508.262 305.600 L508.262 308.225" style="stroke: #000000; stroke-width: 0.8"/>
</g>
</g>
<g id="text_97">
<text style="font-size: 4.306px; font-family: 'DejaVu Sans', 'Liberation Sans', sans-serif" transform="translate(471.193085 331.332924) rotate(-25)">9 - Massive Attack</text>
</g>
</g>
<g id="xtick_40">
<g id="line2d_59">
<g>
<path d="M528.494 305.600 L528.494 308.225" style="stroke: #000000; stroke-width: 0.8"/>
</g>
</g>
<g id="text_98">
<text style="font-size: 4.306px; font-family: 'DejaVu Sans', 'Liberation Sans', sans-serif" transform="translate(497.402622 328.545511) rotate(-25)">10 - Substation</text>
</g>
</g>
<g id="text_99">
<text style="font-size: 4.306px; font-family: 'DejaVu Sans', 'Liberation Sans', sans-serif; text-anchor: middle" x="437.45" y="345.427862" transform="rotate(-0 437.45 345.427862)">Case Study</text>
</g>
</g>
<g id="matplotlib.axis_8">
<g id="ytick_20">
<g id="line2d_60">
<g>
<path d="M328.400 305.600 L325.775 305.600" style="stroke: #000000; stroke-width: 0.8"/>
</g>
</g>
<g id="text_100">
<text style="font-size: 4.306px; font-family: 'DejaVu Sans', 'Liberation Sans', sans-serif; text-anchor: end" x="323.475" y="307.235944" transform="rotate(-0 323.475 307.235944)">0</text>
</g>
</g>
<g id="ytick_21">
<g id="line2d_61">
<g>
<path d="M328.400 288.435 L325.775 288.435" style="stroke: #000000; stroke-width: 0.8"/>
</g>
</g>
<g id="text_101">
<text style="font-size: 4.306px; font-family: 'DejaVu Sans', 'Liberation Sans', sans-serif; text-anchor: end" x="323.475" y="290.070611" transform="rotate(-0 323.475 290.070611)">5</text>
</g>
</g>
<g id="ytick_22">
<g id="line2d_62">
<g>
<path d="M328.400 271.269 L325.775 271.269" style="stroke: #000000; stroke-width: 0.8"/>
</g>
</g>
<g id="text_102">
<text style="font-size: 4.306px; font-family: 'DejaVu Sans', 'Liberation Sans', sans-serif; text-anchor: end" x="323.475" y="272.905279" transform="rotate(-0 323.475 272.905279)">10</text>
</g>
</g>
<g id="ytick_23">
<g id="line2d_63">
<g>
<path d="M328.400 254.104 L325.775 254.104" style="stroke: #000000; stroke-width: 0.8"/>
</g>
</g>
<g id="text_103">
<text style="font-size: 4.306px; font-family: 'DejaVu Sans', 'Liberation Sans', sans-serif; text-anchor: end" x="323.475" y="255.739947" transform="rotate(-0 323.475 255.739947)">15</text>
</g>
</g>
<g id="ytick_24">
<g id="line2d_64">
<g>
<path d="M328.400 236.939 L325.775 236.939" style="stroke: #000000; stroke-width: 0.8"/>
</g>
</g>
<g id="text_104">
<text style="font-size: 4.306px; font-family: 'DejaVu Sans', 'Liberation Sans', sans-serif; text-anchor: end" x="323.475" y="238.574615" transform="rotate(-0 323.475 238.574615)">20</text>
</g>
</g>
<g id="ytick_25">
<g id="line2d_65">
<g>
<path d="M328.400 219.773 L325.775 219.773" style="stroke: #000000; stroke-width: 0.8"/>
</g>
</g>
<g id="text_105">
<text style="font-size: 4.306px; font-family: 'DejaVu Sans', 'Liberation Sans', sans-serif; text-anchor: end" x="323.475" y="221.409283" transform="rotate(-0 323.475 221.409283)">25</text>
</g>
</g>
<g id="ytick_26">
<g id="line2d_66">
<g>
<path d="M328.400 202.608 L325.775 202.608" style="stroke: #000000; stroke-width: 0.8"/>
</g>
</g>
<g id="text_106">
<text style="font-size: 4.306px; font-family: 'DejaVu Sans', 'Liberation Sans', sans-serif; text-anchor: end" x="323.475" y="204.24395" transform="rotate(-0 323.475 204.24395)">30</text>
</g>
</g>
<g id="ytick_27">
<g id="line2d_67">
<g>
<path d="M328.400 185.443 L325.775 185.443" style="stroke: #000000; stroke-width: 0.8"/>
</g>
</g>
<g id="text_107">
<text style="font-size: 4.306px; font-family: 'DejaVu Sans', 'Liberation Sans', sans-serif; text-anchor: end" x="323.475" y="187.078618" transform="rotate(-0 323.475 187.078618)">35</text>
</g>
</g>
<g id="text_108">
<text style="font-size: 4.306px; font-family: 'DejaVu Sans', 'Liberation Sans', sans-serif; text-anchor: middle" x="313.170341" y="244.5" transform="rotate(-90 313.170341 244.5)">Attack_Risk</text>
</g>
</g>
<g id="patch_58">
<path d="M 328.4 305.6 L 328.4 183.4 " style="fill: none; stroke: #000000; stroke-width: 0.8; stroke-linejoin: miter; stroke-linecap: square"/>
</g>
<g id="patch_59">
<path d="M 546.5 305.6 L 546.5 183.4 " style="fill: none; stroke: #000000; stroke-width: 0.8; stroke-linejoin: miter; stroke-linecap: square"/>
</g>
<g id="patch_60">
<path d="M 328.4 305.6 L 546.5 305.6 " style="fill: none; stroke: #000000; stroke-width: 0.8; stroke-linejoin: miter; stroke-linecap: square"/>
</g>
<g id="patch_61">
<path d="M 328.4 183.4 L 546.5 183.4 " style="fill: none; stroke: #000000; stroke-width: 0.8; stroke-linejoin: miter; stroke-linecap: square"/>
</g>
<g id="text_109">
<text style="font-size: 4.306px; font-family: 'DejaVu Sans', 'Liberation Sans', sans-serif; text-anchor: middle" x="348.227273" y="188.323534" transform="rotate(-0 348.227273 188.323534)">33.90</text>
</g>
<g id="text_110">
<text style="font-size: 4.306px; font-family: 'DejaVu Sans', 'Liberation Sans', sans-serif; text-anchor: middle" x="368.459184" y="229.039702" transform="rotate(-0 368.459184 229.039702)">22.04</text>
</g>
<g id="text_111">
<text style="font-size: 4.306px; font-family: 'DejaVu Sans', 'Liberation Sans', sans-serif; text-anchor: middle" x="388.691095" y="204.6306" transform="rotate(-0 388.691095 204.6306)">29.15</text>
</g>
<g id="text_112">
<text style="font-size: 4.306px; font-family: 'DejaVu Sans', 'Liberation Sans', sans-serif; text-anchor: middle" x="408.923006" y="200.682573" transform="rotate(-0 408.923006 200.682573)">30.30</text>
</g>
<g id="text_113">
<text style="font-size: 4.306px; font-family: 'DejaVu Sans', 'Liberation Sans', sans-serif; text-anchor: middle" x="429.154917" y="211.599725" transform="rotate(-0 429.154917 211.599725)">27.12</text>
</g>
<g id="text_114">
<text style="font-size: 4.306px; font-family: 'DejaVu Sans', 'Liberation Sans', sans-serif; text-anchor: middle" x="449.386827" y="188.323534" transform="rotate(-0 449.386827 188.323534)">33.90</text>
</g>
<g id="text_115">
<text style="font-size: 4.306px; font-family: 'DejaVu Sans', 'Liberation Sans', sans-serif; text-anchor: middle" x="469.618738" y="188.323534" transform="rotate(-0 469.618738 188.323534)">33.90</text>
</g>
<g id="text_116">
<text style="font-size: 4.306px; font-family: 'DejaVu Sans', 'Liberation Sans', sans-serif; text-anchor: middle" x="489.850649" y="204.6306" transform="rotate(-0 489.850649 204.6306)">29.15</text>
</g>
<g id="text_117">
<text style="font-size: 4.306px; font-family: 'DejaVu Sans', 'Liberation Sans', sans-serif; text-anchor: middle" x="510.08256" y="256.126596" transform="rotate(-0 510.08256 256.126596)">14.15</text>
</g>
<g id="text_118">
<text style="font-size: 4.306px; font-family: 'DejaVu Sans', 'Liberation Sans', sans-serif; text-anchor: middle" x="530.314471" y="300.825121" transform="rotate(-0 530.314471 300.825121)">1.13</text>
</g>
<g id="text_119">
<text style="font-size: 5.1672px; font-family: 'DejaVu Sans', 'Liberation Sans', sans-serif; text-anchor: middle" x="437.45" y="178.9" transform="rotate(-0 437.45 178.9)">Attack Risk</text>
</g>
</g>
</g>
<defs>
<clipPath id="p0e96db7b95">
<rect x="23.3" y="12.2" width="217.9" height="122.5"/>
</clipPath>
<clipPath id="pd82930c378">
<rect x="328.4" y="12.2" width="218.1" height="122.5"/>
</clipPath>
<clipPath id="pdbe41e1990">
<rect x="23" y="183.4" width="218.2" height="122.2"/>
</clipPath>
<clipPath id="p15ce7bc6e1">
<rect x="328.4" y="183.4" width="218.1" height="122.2"/>
</clipPath>
</defs>
</svg>

</body></html>
